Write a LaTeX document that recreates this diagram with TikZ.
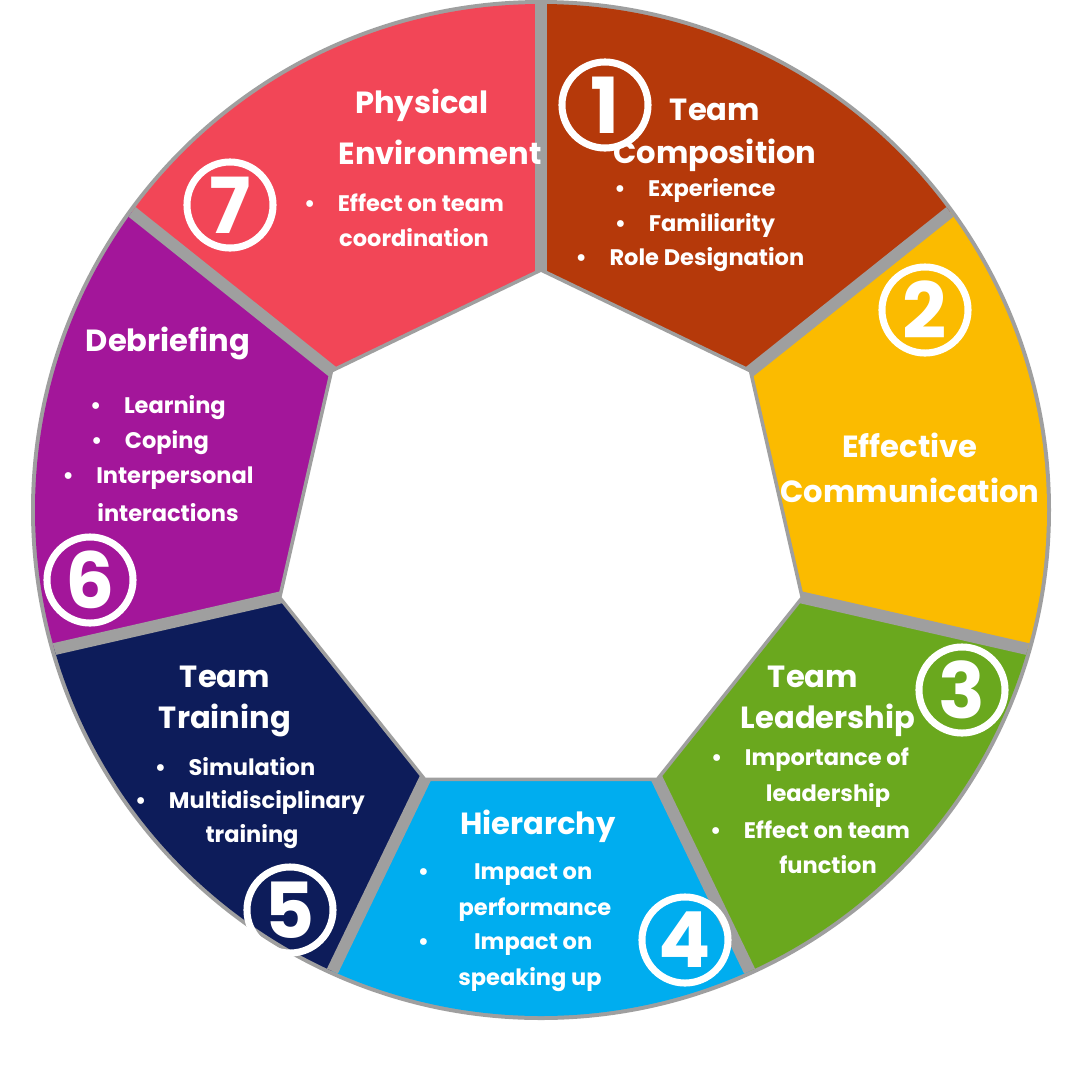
\documentclass[tikz,border=0pt]{standalone}
\usepackage{fontspec}
\setmainfont{Poppins}[UprightFont=* Bold]
\usetikzlibrary{calc}
\definecolor{segA}{HTML}{B5390A}
\definecolor{segB}{HTML}{FBBB00}
\definecolor{segC}{HTML}{6AA81E}
\definecolor{segD}{HTML}{00ADEF}
\definecolor{segE}{HTML}{0D1C5A}
\definecolor{segF}{HTML}{A3169A}
\definecolor{segG}{HTML}{F24657}
\colorlet{gapgray}{gray!75}
\begin{document}
\begin{tikzpicture}[x=0.01cm,y=-0.01cm,
	title/.style={text=white,font=\fontsize{8.7}{10}\selectfont,inner sep=0},
	bul/.style={text=white,font=\fontsize{6.4}{8}\selectfont,inner sep=0},
	num/.style={circle,draw=white,line width=2pt,minimum size=0.86cm,inner sep=0,
		text=white,font=\fontsize{22}{22}\selectfont},
	]
	\useasboundingbox (0,0) rectangle (1084,1081);
	\coordinate (H) at (541,538);
	\coordinate (C) at (541,510);
	
	\fill[gapgray] (C) circle[radius=510];
	\begin{scope}
		\clip (C) circle[radius=506];
		\foreach \c [count=\i] in {segA,segB,segC,segD,segE,segF,segG}{
			\pgfmathsetmacro\a{-90+51.4286*(\i-1)}
			\pgfmathsetmacro\b{\a+51.4286}
			\fill[\c] ($(H)+(\a:268)$) -- ($(H)+(\a:900)$) -- ($(H)+(\b:900)$) -- ($(H)+(\b:268)$) -- cycle;
		}
		\foreach \k in {0,...,6}
		\draw[gapgray,line width=0.12cm] ($(H)+(-90+51.4286*\k:250)$) -- ($(H)+(-90+51.4286*\k:900)$);
	\end{scope}
	\fill[white,draw=gapgray,line width=1pt] ($(H)+(-90:268)$)
	\foreach \k in {1,...,6}{ -- ($(H)+(-90+51.4286*\k:268)$)} -- cycle;
	
	% 1
	\node[num] (n1) at (605,105) {1};
	\node[title] (t1a) at (715,110) {Team};
	\node[title] (t1b) at (715,155) {Composition};
	\node[bul] (b1a) at (695,190) {\textbullet\quad Experience};
	\node[bul] (b1b) at (695,225) {\textbullet\quad Familiarity};
	\node[bul] (b1c) at (690,260) {\textbullet\quad Role Designation};
	% 2
	\node[num] (n2) at (925,310) {2};
	\node[title] (t2a) at (910,445) {Effective};
	\node[title] (t2b) at (910,490) {Communication};
	% 3
	\node[num] (n3) at (962,690) {3};
	\node[title] (t3a) at (813,677) {Team};
	\node[title] (t3b) at (828,720) {Leadership};
	\node[bul] (b3a) at (810,760) {\textbullet\quad Importance of};
	\node[bul] (b3b) at (828,795) {leadership};
	\node[bul] (b3c) at (810,830) {\textbullet\quad Effect on team};
	\node[bul] (b3d) at (828,865) {function};
	% 4
	\node[num] (n4) at (685,940) {4};
	\node[title] (t4a) at (538,826) {Hierarchy};
	\node[bul] (b4a) at (505,875) {\textbullet\qquad Impact on};
	\node[bul] (b4b) at (535,910) {performance};
	\node[bul] (b4c) at (505,945) {\textbullet\qquad Impact on};
	\node[bul] (b4d) at (530,980) {speaking up};
	% 5
	\node[num] (n5) at (290,910) {5};
	\node[title] (t5a) at (225,677) {Team};
	\node[title] (t5b) at (225,720) {Training};
	\node[bul] (b5a) at (235,767) {\textbullet\quad Simulation};
	\node[bul] (b5b) at (250,802) {\textbullet\quad Multidisciplinary};
	\node[bul] (b5c) at (252,837) {training};
	% 6
	\node[num] (n6) at (90,580) {6};
	\node[title] (t6a) at (168,343) {Debriefing};
	\node[bul] (b6a) at (158,408) {\textbullet\quad Learning};
	\node[bul] (b6b) at (150,443) {\textbullet\quad Coping};
	\node[bul] (b6c) at (158,478) {\textbullet\quad Interpersonal};
	\node[bul] (b6d) at (168,513) {interactions};
	% 7
	\node[num] (n7) at (230,205) {7};
	\node[title] (t7a) at (422,105) {Physical};
	\node[title] (t7b) at (440,152) {Environment};
	\node[bul] (b7a) at (404,203) {\textbullet\quad Effect on team};
	\node[bul] (b7b) at (414,238) {coordination};
\end{tikzpicture}
\end{document}
